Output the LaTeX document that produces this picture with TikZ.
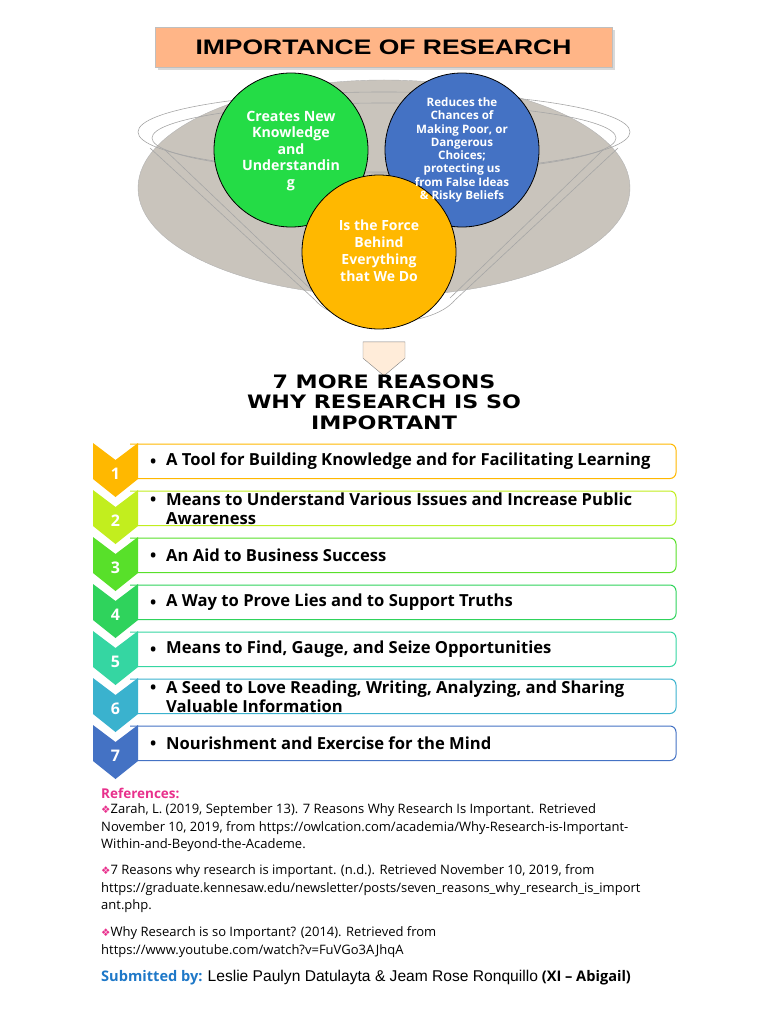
\documentclass[tikz,border=0pt]{standalone}
\usepackage{fontspec}
\setmainfont{Open Sans}
\newfontfamily\arialf{Liberation Sans}
\newfontfamily\arialw[FakeStretch=1.26]{Liberation Sans}
\newfontfamily\verd[FakeStretch=1.2]{DejaVu Sans}
\newfontfamily\symf{DejaVu Sans}
\usetikzlibrary{shapes.arrows,shadows}
\definecolor{c1}{HTML}{FFB800}
\definecolor{c2}{HTML}{C2EE1E}
\definecolor{c3}{HTML}{58E02A}
\definecolor{c4}{HTML}{2FD35C}
\definecolor{c5}{HTML}{35D6A2}
\definecolor{c6}{HTML}{3AB2CE}
\definecolor{c7}{HTML}{4472C4}
\definecolor{cg}{HTML}{24DC46}
\definecolor{ell}{HTML}{C9C4BC}
\definecolor{pinkr}{HTML}{E8308C}
\definecolor{subblue}{HTML}{1E78C8}
\tikzset{
 circ/.style={circle,draw=black,line width=0.8pt,minimum size=154pt},
 ctext/.style={align=center,text=white,font=\bfseries\fontsize{14.2}{16.5}\selectfont},
 item/.style={anchor=west,font=\bfseries\fontsize{16.6}{19}\selectfont,align=left,inner sep=0pt},
 num/.style={text=white,font=\bfseries\fontsize{16}{16}\selectfont},
 ref/.style={anchor=west,font=\fontsize{13}{17.5}\selectfont,align=left,inner sep=0pt},
}
\begin{document}
\begin{tikzpicture}[x=1pt,y=-1pt]
\useasboundingbox (0,0) rectangle (768,1024);
% title
\node[draw=gray!50,fill=orange!45!pink!80!white,minimum width=457pt,minimum height=40pt,drop shadow={opacity=0.3}] (title) at (383.5,47) {\arialw\bfseries\fontsize{21}{21}\selectfont IMPORTANCE OF RESEARCH};
% big ellipse
\fill[ell,draw=gray!60] (384,188) ellipse (246 and 108);
\draw[gray!70,line width=0.6pt] (384,132) ellipse (246 and 40);
\draw[gray!70,line width=0.6pt] (384,138) ellipse (232 and 35);
\draw[gray!70,line width=0.6pt] (150,148) -- (315,300) .. controls (340,330) and (430,330) .. (455,300) -- (618,148);
\draw[gray!70,line width=0.6pt] (165,150) -- (320,298);
\draw[gray!70,line width=0.6pt] (603,150) -- (450,298);
% circles
\node[circ,fill=cg] (g) at (291,150) {};
\node[circ,fill=c7] (b) at (462,150) {};
\node[circ,fill=c1] (y) at (379,252) {};
\node[ctext] (gt) at (291,151) {Creates New\\Knowledge\\and\\Understandin\\g};
\node[ctext,font=\bfseries\fontsize{11.6}{13.3}\selectfont] (bt) at (462,150) {Reduces the\\Chances of\\Making Poor, or\\Dangerous\\Choices;\\protecting us\\from False Ideas\\\& Risky Beliefs};
\node[ctext,font=\bfseries\fontsize{14}{17}\selectfont] (yt) at (379,251) {Is the Force\\Behind\\Everything\\that We Do};
% arrow
\node[single arrow,shape border rotate=270,draw=gray,fill=orange!15,minimum height=34pt,minimum width=42pt,single arrow head extend=0pt,inner sep=0pt,single arrow tip angle=100] (arr) at (384,350) {};
% heading
\node[align=center,font=\verd\bfseries\fontsize{18.5}{20.5}\selectfont] (head) at (384,402) {7 MORE REASONS\\WHY RESEARCH IS SO\\IMPORTANT};
% items
\foreach \i/\o/\t in {1/0/{A Tool for Building Knowledge and for Facilitating Learning},
 2/-9.5/{Means to Understand Various Issues and Increase Public\\Awareness},
 3/0/{An Aid to Business Success},
 4/0/{A Way to Prove Lies and to Support Truths},
 5/0/{Means to Find, Gauge, and Seize Opportunities},
 6/-9.5/{A Seed to Love Reading, Writing, Analyzing, and Sharing\\Valuable Information},
 7/0/{Nourishment and Exercise for the Mind}}{
 \pgfmathsetmacro{\yt}{443+47*(\i-1)}
 \draw[c\i,line width=1pt,fill=white,rounded corners=6pt] (130,\yt+1) -- (676,\yt+1) -- (676,\yt+35.5) -- (130,\yt+35.5);
 \fill[c\i] (93,\yt) -- (115.5,\yt+17) -- (138,\yt) -- (138,\yt+36) -- (115.5,\yt+54) -- (93,\yt+36) -- cycle;
 \node[num] (n\i) at (115.5,\yt+31) {\i};
 \node[item,anchor=base west] (b\i) at (150,\yt+24.5+\o) {\textbullet};
 \node[item] (t\i) at (166,\yt+18.5) {\t};
}
% references
\node[anchor=west,text=pinkr,font=\bfseries\fontsize{13.5}{13.5}\selectfont,inner sep=0pt] (refh) at (101,793) {References:};
\newcommand{\rb}{{\symf\color{pinkr}\fontsize{10.5}{9}\selectfont ❖}}
\node[ref] (r1) at (101,828) {\rb Zarah, L. (2019, September 13). 7 Reasons Why Research Is Important. Retrieved\\November 10, 2019, from https://owlcation.com/academia/Why-Research-is-Important-\\Within-and-Beyond-the-Academe.};
\node[ref] (r2) at (101,889) {\rb 7 Reasons why research is important. (n.d.). Retrieved November 10, 2019, from\\https://graduate.kennesaw.edu/newsletter/posts/seven\_reasons\_why\_research\_is\_import\\ant.php.};
\node[ref] (r3) at (101,942) {\rb Why Research is so Important? (2014). Retrieved from\\https://www.youtube.com/watch?v=FuVGo3AJhqA};
\node[anchor=west,inner sep=0pt,font=\fontsize{14.6}{14.6}\selectfont] (sub) at (101,978) {{\bfseries\color{subblue}Submitted by:} {\arialf\fontsize{15.6}{15.6}\selectfont Leslie Paulyn Datulayta \& Jeam Rose Ronquillo} \textbf{(XI – Abigail)}};
\end{tikzpicture}
\end{document}
